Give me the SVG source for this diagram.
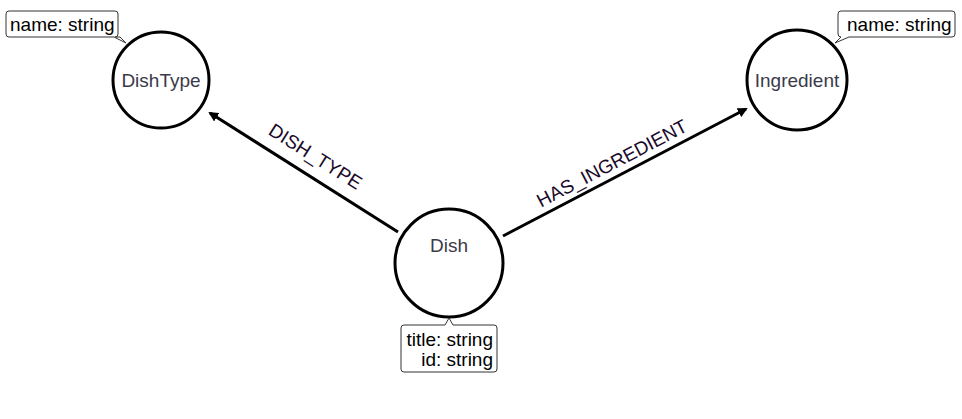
<svg xmlns="http://www.w3.org/2000/svg" width="962" height="419" viewBox="0 0 962 419">
<style>
.n{fill:#fff;stroke:#000;stroke-width:3}
.nt{font-family:"Liberation Sans",Arial,sans-serif;font-size:19px;fill:#3a3a4a;text-anchor:middle}
.c{fill:#fff;stroke:#333;stroke-width:1}
.ct{font-family:"Liberation Sans",Arial,sans-serif;font-size:19px;fill:#000}
.e{stroke:#000;stroke-width:3;fill:none}
.et{font-family:"Liberation Sans",Arial,sans-serif;font-size:19px;fill:#1a0a2a;text-anchor:middle}
</style>
<defs><marker id="a" markerWidth="10" markerHeight="10" refX="8" refY="5" orient="auto" markerUnits="userSpaceOnUse"><path d="M0,0L10,5L0,10z" fill="#000"/></marker></defs>
<rect width="962" height="419" fill="#fff"/>
<g id="connectors">
<line class="e" x1="398" y1="232" x2="210" y2="113" marker-end="url(#a)"/>
<text class="et" transform="translate(312,162) rotate(32.3)">DISH_TYPE</text>
<line class="e" x1="503" y1="236" x2="746" y2="109" marker-end="url(#a)"/>
<text class="et" transform="translate(615,169) rotate(-27.6)">HAS_INGREDIENT</text>
</g>
<g id="DishType">
<circle class="n" cx="161" cy="80" r="48"/>
<text class="nt" x="161" y="87">DishType</text>
<path class="c" d="M9,11H115a3,3 0 0 1 3,3V34a3,3 0 0 1-3,3H120L126,43L114,37H9a3,3 0 0 1-3-3V14a3,3 0 0 1 3-3z"/>
<text class="ct" x="10" y="31">name: string</text>
</g>
<g id="Ingredient">
<circle class="n" cx="797" cy="80" r="50"/>
<text class="nt" x="797" y="87">Ingredient</text>
<path class="c" d="M845,11H952a3,3 0 0 1 3,3V34a3,3 0 0 1-3,3H849L835,43L841,37a3,3 0 0 1-3-3V14a3,3 0 0 1 3-3z"/>
<text class="ct" x="847" y="31">name: string</text>
</g>
<g id="Dish">
<circle class="n" cx="449" cy="263" r="54"/>
<text class="nt" x="449" y="252">Dish</text>
<path class="c" d="M404,325H445L449,318L453,325H494a3,3 0 0 1 3,3V369a3,3 0 0 1-3,3H404a3,3 0 0 1-3-3V328a3,3 0 0 1 3-3z"/>
<text class="ct" x="493" y="346" text-anchor="end">title: string</text>
<text class="ct" x="493" y="366" text-anchor="end">id: string</text>
</g>
</svg>
